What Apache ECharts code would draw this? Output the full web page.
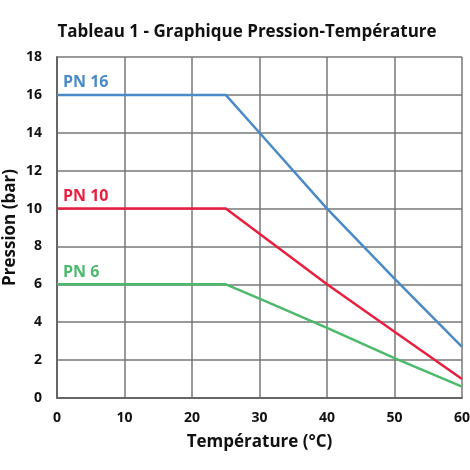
<!doctype html>
<html lang="fr">
<head>
    <meta charset="utf-8">
    <title>Graphique Pression-Température</title>
    <script src="https://cdn.jsdelivr.net/npm/echarts@6/dist/echarts.min.js"></script>
    <style>
        html, body { margin: 0; padding: 0; background: #fff; }
        #main { width: 470px; height: 470px; }
    </style>
</head>
<body>
    <div id="main"></div>
    <script>
        // données (température °C, pression bar)
        var temps16 = [0, 25, 30, 40, 50, 60];
        var pn16 = [16, 16, 14, 10, 6.3, 2.7];
        var temps10 = [0, 25, 40, 50, 60];
        var pn10 = [10, 10, 6, 3.5, 1];
        var temps6 = [0, 25, 30, 40, 50, 60];
        var pn6 = [6, 6, 5.25, 3.7, 2.1, 0.6];
        var names = ['PN 16', 'PN 10', 'PN 6'];
        var colors = ['#4a8ac6', '#e81f3f', '#4cb96b'];

        var font = '"Open Sans", "DejaVu Sans", sans-serif';

        function buildSeries(name, xs, ys, color) {
            var data = [];
            for (var i = 0; i < xs.length; i++) {
                var item = { value: [xs[i], ys[i]] };
                if (i === 0) {
                    // étiquette "PN xx" au-dessus du début de la courbe
                    item.label = {
                        show: true,
                        formatter: name,
                        position: [6, -20],
                        color: color,
                        fontFamily: font,
                        fontWeight: 'bold',
                        fontSize: 16
                    };
                }
                data.push(item);
            }
            return {
                name: name,
                type: 'line',
                data: data,
                symbol: 'circle',
                symbolSize: 0,
                showSymbol: true,
                silent: true,
                itemStyle: { color: color },
                lineStyle: { color: color, width: 2.5 },
                z: 5
            };
        }

        var myChart = echarts.init(document.getElementById('main'));
        var option = {
            animation: false,
            title: {
                text: 'Tableau 1 - Graphique Pression-Température',
                left: 242,
                textAlign: 'center',
                top: 19,
                textStyle: { fontFamily: font, fontWeight: 'bold', fontSize: 17, color: '#111' }
            },
            grid: { left: 57, right: 8, top: 57, bottom: 72, outerBoundsMode: 'none' },
            xAxis: {
                type: 'value',
                min: 0, max: 60, interval: 10,
                name: 'Température (°C)',
                nameLocation: 'middle',
                nameGap: 36,
                nameTextStyle: { fontFamily: font, fontWeight: 'bold', fontSize: 17, color: '#111' },
                axisLine: { show: true, lineStyle: { color: '#666', width: 2 } },
                axisTick: { show: false },
                axisLabel: { fontFamily: font, fontWeight: 'bold', fontSize: 14, color: '#111', margin: 13 },
                splitLine: { show: true, lineStyle: { color: '#777', width: 1.5 } }
            },
            yAxis: {
                type: 'value',
                min: 0, max: 18, interval: 2,
                name: 'Pression (bar)',
                nameLocation: 'middle',
                nameGap: 38,
                nameMoveOverlap: false,
                nameTextStyle: { fontFamily: font, fontWeight: 'bold', fontSize: 17, color: '#111' },
                axisLine: { show: true, lineStyle: { color: '#666', width: 2 } },
                axisTick: { show: false },
                axisLabel: { fontFamily: font, fontWeight: 'bold', fontSize: 14, color: '#111', margin: 15 },
                splitLine: { show: true, lineStyle: { color: '#777', width: 1.5 } }
            },
            series: [
                buildSeries(names[0], temps16, pn16, colors[0]),
                buildSeries(names[1], temps10, pn10, colors[1]),
                buildSeries(names[2], temps6, pn6, colors[2])
            ]
        };
        myChart.setOption(option);
    </script>
</body>
</html>
